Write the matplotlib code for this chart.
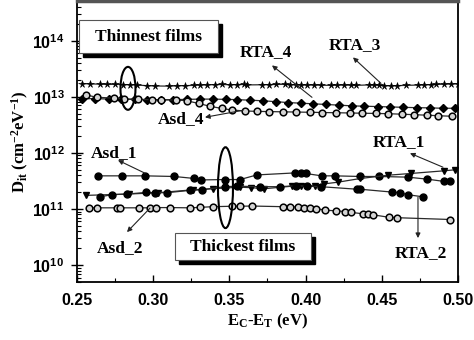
import numpy as np
import matplotlib
matplotlib.use('Agg')
import matplotlib.pyplot as plt
from matplotlib.patches import Ellipse, Rectangle

# ---- data (x = Ec-Et in eV, y = Dit in cm^-2 eV^-1) ----
# thinnest films
rta3_x = [0.2531, 0.2586, 0.2651, 0.2695, 0.2750, 0.2805, 0.2849, 0.2893, 0.2958, 0.3013,
          0.3101, 0.3156, 0.3211, 0.3266, 0.3309, 0.3353, 0.3408, 0.3452, 0.3507, 0.3551,
          0.3594, 0.3616, 0.3715, 0.3759, 0.3803, 0.3868, 0.3901, 0.3934, 0.3967, 0.4011,
          0.4055, 0.4099, 0.4164, 0.4209, 0.4252, 0.4296, 0.4329, 0.4417, 0.4450, 0.4483,
          0.4515, 0.4560, 0.4603, 0.4658, 0.4735, 0.4779, 0.4823, 0.4856, 0.4910, 0.4954,
          0.4998]
rta3_y = [1.72e13, 1.70e13, 1.68e13, 1.66e13, 1.67e13, 1.65e13, 1.64e13, 1.62e13, 1.58e13, 1.56e13,
          1.55e13, 1.57e13, 1.58e13, 1.60e13, 1.62e13, 1.63e13, 1.65e13, 1.66e13, 1.64e13, 1.65e13,
          1.66e13, 1.63e13, 1.64e13, 1.65e13, 1.66e13, 1.67e13, 1.65e13, 1.64e13, 1.63e13, 1.62e13,
          1.62e13, 1.61e13, 1.60e13, 1.61e13, 1.62e13, 1.61e13, 1.60e13, 1.63e13, 1.62e13, 1.61e13,
          1.58e13, 1.57e13, 1.58e13, 1.60e13, 1.62e13, 1.63e13, 1.65e13, 1.66e13, 1.68e13, 1.69e13,
          1.70e13]

rta4_x = [0.253, 0.262, 0.271, 0.279, 0.288, 0.296, 0.305, 0.313, 0.322, 0.331, 0.339, 0.348,
          0.355, 0.3638, 0.3719, 0.3803, 0.3884, 0.3967, 0.4051, 0.4136, 0.4219, 0.4303,
          0.4384, 0.4472, 0.4555, 0.4640, 0.4728, 0.4816, 0.4899, 0.4982]
rta4_y = [9.2e12, 9.3e12, 9.1e12, 9.0e12, 9.0e12, 8.9e12, 8.9e12, 8.9e12, 9.0e12, 9.1e12, 9.1e12, 9.0e12,
          8.9e12, 8.7e12, 8.5e12, 8.2e12, 7.9e12, 7.7e12, 7.5e12, 7.3e12, 7.1e12, 6.9e12,
          6.8e12, 6.7e12, 6.6e12, 6.5e12, 6.4e12, 6.35e12, 6.25e12, 6.25e12]

asd4_x = [0.256, 0.263, 0.274, 0.281, 0.290, 0.299, 0.305, 0.315, 0.322, 0.330, 0.337, 0.345,
          0.352, 0.360, 0.368, 0.376, 0.385, 0.394, 0.403, 0.411, 0.420, 0.429, 0.437, 0.446,
          0.454, 0.463, 0.471, 0.480, 0.487, 0.496]
asd4_y = [1.08e13, 9.8e12, 9.5e12, 9.2e12, 9.0e12, 8.9e12, 8.8e12, 8.8e12, 8.5e12, 7.6e12, 6.8e12, 6.2e12,
          5.8e12, 5.6e12, 5.5e12, 5.45e12, 5.4e12, 5.35e12, 5.3e12, 5.25e12, 5.2e12, 5.15e12, 5.1e12, 5.05e12,
          5.0e12, 4.9e12, 4.8e12, 4.7e12, 4.6e12, 4.5e12]

# thickest films
asd1_x = [0.2636, 0.2798, 0.2947, 0.3138, 0.3271, 0.3316, 0.347, 0.357, 0.368, 0.393, 0.397,
          0.400, 0.4105, 0.419, 0.436, 0.448, 0.467, 0.480, 0.491, 0.495]
asd1_y = [3.9e11, 3.9e11, 3.9e11, 3.8e11, 3.5e11, 3.3e11, 3.35e11, 3.35e11, 4.05e11, 4.4e11, 4.4e11,
          4.3e11, 3.9e11, 3.9e11, 3.8e11, 3.8e11, 3.7e11, 3.4e11, 3.1e11, 3.1e11]

rta1_x = [0.256, 0.284, 0.303, 0.326, 0.339, 0.357, 0.364, 0.373, 0.391, 0.397, 0.406,
          0.412, 0.421, 0.436, 0.454, 0.469, 0.491, 0.498]
rta1_y = [1.75e11, 1.85e11, 1.95e11, 2.2e11, 2.3e11, 2.45e11, 2.4e11, 2.3e11, 2.55e11, 2.6e11, 2.6e11,
          2.8e11, 3.0e11, 3.5e11, 4.0e11, 4.3e11, 4.8e11, 5.0e11]

rta2_x = [0.265, 0.273, 0.283, 0.295, 0.301, 0.309, 0.324, 0.332, 0.347, 0.355, 0.370, 0.383,
          0.394, 0.401, 0.410, 0.434, 0.436, 0.457, 0.462, 0.467, 0.477]
rta2_y = [1.65e11, 1.8e11, 1.85e11, 1.97e11, 1.95e11, 1.95e11, 2.15e11, 2.2e11, 2.5e11, 2.55e11, 2.5e11, 2.5e11,
          2.6e11, 2.55e11, 2.5e11, 2.25e11, 2.25e11, 2.0e11, 1.95e11, 1.8e11, 1.65e11]

asd2_x = [0.258, 0.263, 0.276, 0.278, 0.291, 0.298, 0.302, 0.311, 0.324, 0.331, 0.339, 0.352,
          0.357, 0.365, 0.385, 0.390, 0.395, 0.399, 0.403, 0.407, 0.413, 0.420, 0.426, 0.430,
          0.438, 0.441, 0.444, 0.455, 0.460, 0.495]
asd2_y = [1.05e11, 1.05e11, 1.05e11, 1.05e11, 1.05e11, 1.05e11, 1.06e11, 1.06e11, 1.05e11, 1.07e11, 1.1e11, 1.12e11,
          1.12e11, 1.13e11, 1.1e11, 1.1e11, 1.08e11, 1.06e11, 1.05e11, 1.02e11, 9.5e10, 9.3e10, 9.0e10, 8.7e10,
          8.2e10, 8.0e10, 7.9e10, 7.1e10, 7.0e10, 6.5e10]

x_ticks = [0.25, 0.30, 0.35, 0.40, 0.45, 0.50]
y_ticks = [1e10, 1e11, 1e12, 1e13, 1e14]
y_labels = ['10$^{10}$', '10$^{11}$', '10$^{12}$', '10$^{13}$', '10$^{14}$']

plt.rcParams['mathtext.fontset'] = 'custom'
plt.rcParams['mathtext.rm'] = 'Liberation Serif:bold'
plt.rcParams['mathtext.it'] = 'Liberation Serif:bold'
plt.rcParams['mathtext.bf'] = 'Liberation Serif:bold'
plt.rcParams['mathtext.sf'] = 'Liberation Sans:bold'

serif = dict(family='Liberation Serif', weight='bold')

fig = plt.figure(figsize=(4.74, 3.40), dpi=100)
ax = fig.add_axes([0.1624, 0.1706, 0.8038, 0.8250])

line_kw = dict(color='#2a2a2a', lw=0.9)
ax.plot(rta3_x, rta3_y, marker='*', ms=5.5, mfc='black', mec='black', mew=0.4, **line_kw)
ax.plot(rta4_x, rta4_y, marker='D', ms=4, mfc='black', mec='black', **line_kw)
ax.plot(asd4_x, asd4_y, marker='o', ms=4.8, mfc='#d4d4d4', mec='black', mew=1.1, **line_kw)
ax.plot(asd1_x, asd1_y, marker='o', ms=5, mfc='black', mec='black', **line_kw)
ax.plot(rta1_x, rta1_y, marker='v', ms=5, mfc='black', mec='black', **line_kw)
ax.plot(rta2_x, rta2_y, marker='o', ms=5, mfc='black', mec='black', **line_kw)
ax.plot(asd2_x, asd2_y, marker='o', ms=4.8, mfc='#d4d4d4', mec='black', mew=1.1, **line_kw)

ax.set_yscale('log')
ax.set_xlim(0.25, 0.50)
ax.set_ylim(5e9, 5e14)
ax.set_xticks(x_ticks)
ax.set_xticklabels(['%.2f' % t for t in x_ticks])
ax.set_xticks([0.275, 0.325, 0.375, 0.425, 0.475], minor=True)
ax.set_yticks(y_ticks)
ax.set_yticklabels(['$\\mathsf{%s}$' % l.replace('$', '') for l in y_labels])
for lab in ax.get_xticklabels() + ax.get_yticklabels():
    lab.set_family('Liberation Sans')
    lab.set_weight('bold')
    lab.set_fontsize(11.5)

ax.tick_params(axis='y', which='major', direction='inout', length=8, width=1.0, pad=5)
ax.tick_params(axis='y', which='minor', direction='in', length=3, width=0.8)
ax.tick_params(axis='x', which='major', direction='in', length=5, width=1.0, pad=8)
ax.tick_params(axis='x', which='minor', direction='in', length=3, width=0.8)
for s in ax.spines.values():
    s.set_linewidth(1.3)
ax.spines['top'].set_color('#555555')
ax.spines['top'].set_linewidth(2.5)

ax.set_ylabel('D$_{it}$ (cm$^{-2}$eV$^{-1}$)', fontsize=12, labelpad=1, **serif)
ax.set_xlabel('E$_{C}$-E$_{T}$ (eV)', fontsize=12, labelpad=3, **serif)


def px(x, y):
    # pixel position in the reference image -> axes fraction
    return ((x - 77) / 381.0, (282 - y) / 281.0)


# boxes with shadows
def shadow_box(x0, y0, x1, y1, text):
    a = px(x0, y1)
    w = (x1 - x0) / 381.0
    h = (y1 - y0) / 281.0
    sh = px(x0 + 4, y1 + 4)
    ax.add_patch(Rectangle(sh, w, h, transform=ax.transAxes, fc='black', ec='black', zorder=5))
    ax.add_patch(Rectangle(a, w, h, transform=ax.transAxes, fc='white', ec='#555555', lw=0.8, zorder=6))
    c = px((x0 + x1) / 2, (y0 + y1) / 2)
    ax.text(c[0], c[1], text, transform=ax.transAxes, ha='center', va='center',
            fontsize=12.5, zorder=7, **serif)


shadow_box(79, 20, 218, 53, 'Thinnest films')
shadow_box(175, 233, 311, 260, 'Thickest films')

# ellipses marking the groups
for cx, cy, w, h in [(128, 88, 15, 43), (225.5, 187.5, 15, 81)]:
    c = px(cx, cy)
    ax.add_patch(Ellipse(c, w / 381.0, h / 281.0, transform=ax.transAxes,
                         fill=False, ec='black', lw=1.5, zorder=4))

# labels with arrows (head at the label end)
labels = [
    ('RTA_4', (266, 52), (272, 65), (312, 97)),
    ('RTA_3', (355, 45), (353, 57), (381, 83)),
    ('Asd_4', (181, 119), (205, 117), (243, 110)),
    ('Asd_1', (114, 153), (118, 160), (145, 173)),
    ('RTA_1', (399, 142), (410, 153), (443, 167)),
    ('Asd_2', (120, 248), (127, 232), (150, 208)),
    ('RTA_2', (421, 253), (418, 238), (418, 197)),
]
for text, pos, head, tail in labels:
    p = px(*pos)
    ax.text(p[0], p[1], text, transform=ax.transAxes, ha='center', va='center',
            fontsize=12.5, zorder=7, **serif)
    ax.annotate('', xy=px(*head), xycoords='axes fraction',
                xytext=px(*tail), textcoords='axes fraction',
                arrowprops=dict(arrowstyle='-|>', color='#222222', lw=0.8,
                                mutation_scale=7, shrinkA=0, shrinkB=0), zorder=7)

plt.savefig('out.png', dpi=100)
